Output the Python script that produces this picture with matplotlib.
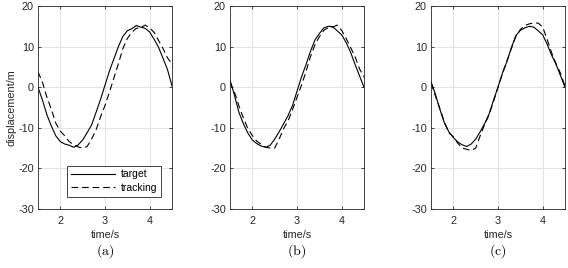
import matplotlib
matplotlib.use("Agg")
import matplotlib.pyplot as plt
import numpy as np

plt.rcParams['mathtext.fontset'] = 'cm'
plt.rcParams['font.family'] = ['Liberation Sans', 'DejaVu Sans']
plt.rcParams['axes.unicode_minus'] = False

t = [1.5, 1.6, 1.7, 1.8, 1.9, 2.0, 2.1, 2.2, 2.3, 2.4, 2.5, 2.6, 2.7, 2.8, 2.9, 3.0,
     3.1, 3.2, 3.3, 3.4, 3.5, 3.6, 3.7, 3.8, 3.9, 4.0, 4.1, 4.2, 4.3, 4.4, 4.5]

target_a = [0.0, -3.2, -6.8, -9.6, -12.0, -13.4, -14.0, -14.3, -14.8, -14.2, -13.0, -11.2,
            -9.3, -6.2, -3.0, 0.5, 4.0, 7.0, 10.0, 12.5, 13.9, 14.4, 15.2, 14.8, 14.5,
            13.6, 11.8, 9.8, 7.1, 4.3, 0.3]
tracking_a = [3.8, 1.2, -2.5, -5.5, -8.9, -10.8, -12.0, -13.4, -14.2, -14.7, -15.0, -14.6,
              -12.8, -10.5, -7.3, -4.5, -1.2, 2.3, 5.8, 9.5, 12.0, 13.5, 14.5, 14.7, 15.3,
              14.6, 13.5, 11.5, 9.5, 7.2, 5.8]

target_b = [1.8, -2.0, -6.2, -9.0, -11.3, -13.0, -13.9, -14.5, -14.8, -14.3, -12.8, -11.0,
            -9.0, -7.0, -4.5, -1.0, 2.5, 5.5, 8.8, 11.6, 13.2, 14.6, 15.0, 14.9, 13.9,
            12.9, 11.0, 8.6, 5.6, 2.8, 0.0]
tracking_b = [1.2, -1.2, -4.6, -7.6, -10.2, -11.9, -13.3, -14.1, -14.8, -15.0, -15.0, -12.8,
              -10.2, -8.3, -5.5, -2.5, 0.5, 3.8, 7.5, 10.4, 12.4, 14.0, 14.7, 14.8, 15.3,
              14.0, 12.0, 9.8, 7.5, 4.5, 2.5]

target_c = [1.4, -1.8, -5.5, -8.8, -11.0, -12.4, -13.5, -14.2, -14.6, -14.0, -12.8, -11.0,
            -9.0, -6.6, -3.2, 0.0, 3.5, 6.3, 9.8, 12.7, 14.0, 14.6, 15.0, 14.8, 13.9,
            12.9, 10.6, 7.9, 5.6, 2.8, 0.0]
tracking_c = [1.0, -2.2, -5.3, -8.6, -11.2, -12.2, -13.8, -15.0, -15.3, -15.6, -15.0, -12.0,
              -9.2, -6.8, -3.5, 0.0, 3.3, 6.5, 9.5, 12.5, 14.2, 15.2, 15.6, 15.8, 15.8,
              14.8, 11.8, 8.5, 5.8, 3.4, 0.3]

captions = ['(a)', '(b)', '(c)']
xticks = [2, 3, 4]
yticks = [-30, -20, -10, 0, 10, 20]

fig = plt.figure(figsize=(5.68, 2.68), dpi=100)
lefts = [38 / 568, 230 / 568, 431 / 568]
w = 134 / 568
bottom = 1 - 209 / 268
h = 203 / 268

data = [(target_a, tracking_a), (target_b, tracking_b), (target_c, tracking_c)]
spine_col = '#262626'
for i, (tg, tr) in enumerate(data):
    ax = fig.add_axes([lefts[i], bottom, w, h])
    ax.plot(t, tg, color='black', lw=0.8, label='target')
    ax.plot(t, tr, color='black', lw=0.8, linestyle=(0, (6, 3.5)), label='tracking')
    ax.set_xlim(1.5, 4.5)
    ax.set_ylim(-30, 20)
    ax.set_xticks(xticks)
    ax.set_yticks(yticks)
    ax.grid(True, color='#e3e3e3', lw=0.7)
    ax.set_axisbelow(True)
    ax.tick_params(direction='in', length=2.5, width=0.6, labelsize=7.8,
                   colors=spine_col, top=True, right=True)
    ax.tick_params(axis='x', pad=5)
    ax.tick_params(axis='y', pad=3)
    for s in ax.spines.values():
        s.set_color(spine_col)
        s.set_linewidth(0.6)
    ax.set_xlabel('time/s', fontsize=7.8, color=spine_col, labelpad=3)
    if i == 0:
        ax.set_ylabel('displacement/m', fontsize=7.8, color=spine_col, labelpad=1)
        leg = ax.legend(loc='lower left', bbox_to_anchor=(0.18, 0.035), fontsize=7.5,
                        handlelength=4.2, fancybox=False, framealpha=1,
                        edgecolor=spine_col, borderpad=0.35, labelspacing=0.35,
                        handletextpad=0.6)
        leg.get_frame().set_linewidth(0.6)
    fig.text(lefts[i] + w / 2, 1 - 251 / 268, r'$\mathrm{' + captions[i] + '}$',
             ha='center', va='center', fontsize=10)

fig.savefig('out.png', dpi=100)
